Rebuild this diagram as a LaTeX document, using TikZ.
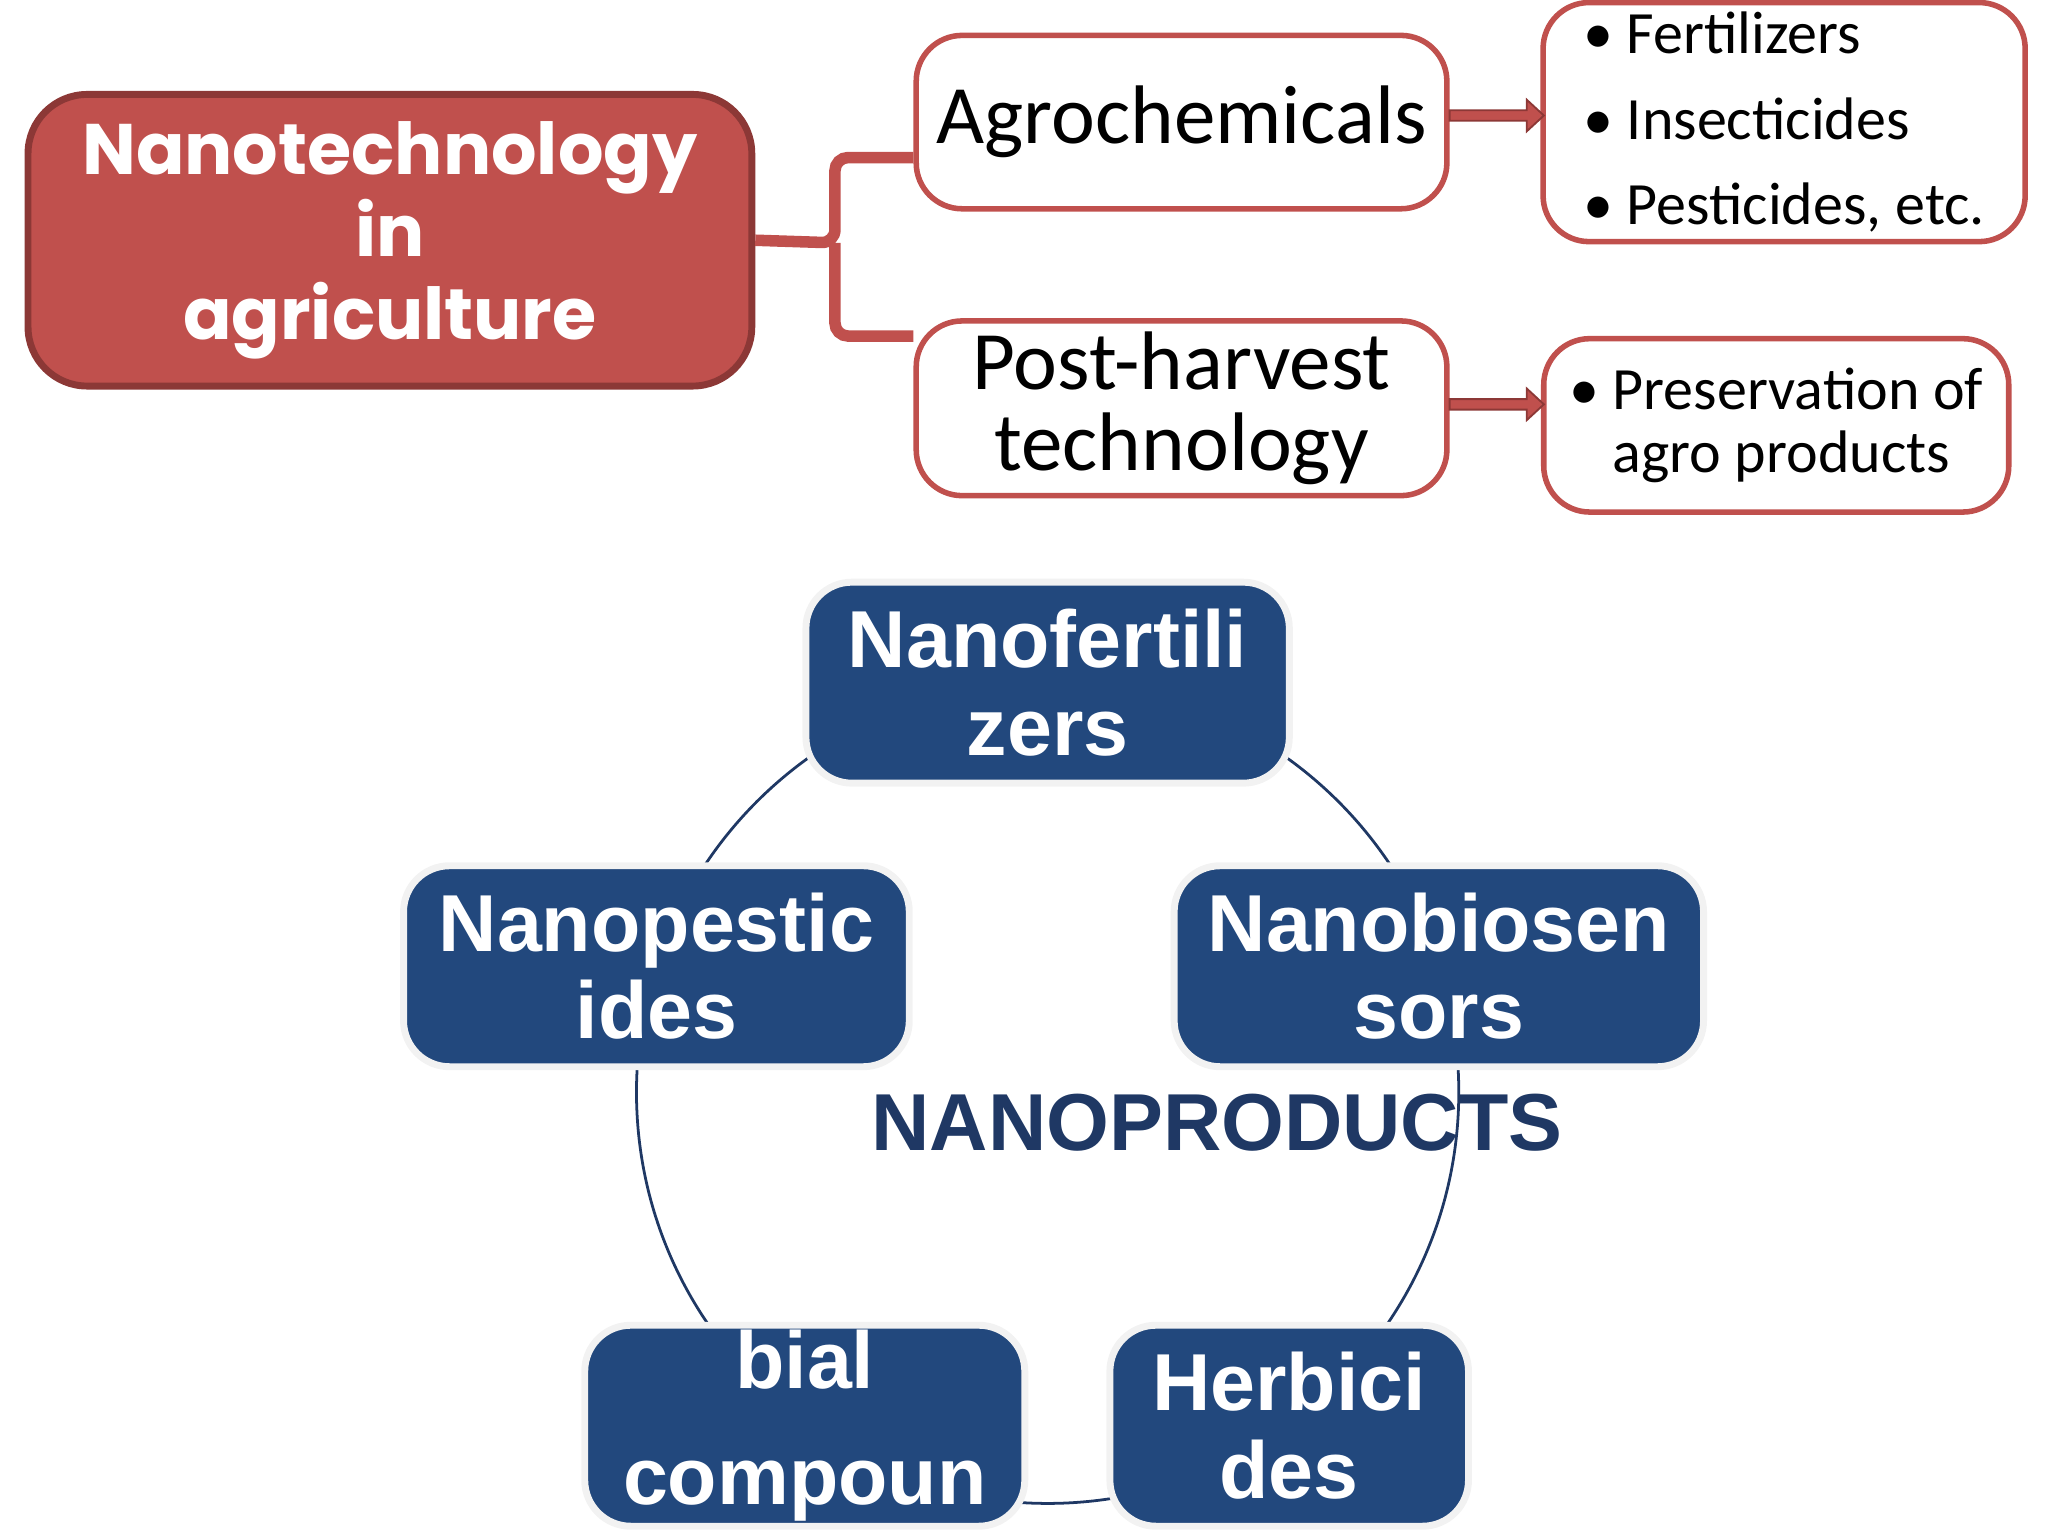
\documentclass[tikz,border=0pt]{standalone}
\usepackage{fontspec}
\setmainfont{Carlito}
\newfontfamily\arialf{Liberation Sans}
\newfontfamily\popf{Poppins}
\usetikzlibrary{arrows.meta}
\definecolor{redfill}{HTML}{C0504D}
\definecolor{redline}{HTML}{8C3836}
\definecolor{blufill}{HTML}{22487D}
\definecolor{bluline}{HTML}{1F3864}
\begin{document}
\begin{tikzpicture}[x=0.01cm,y=-0.01cm,
  redbox/.style={draw=redfill,line width=1.2pt,fill=white,rounded corners=0.35cm,align=center,inner sep=0pt},
  blubox/.style={draw=white!90!gray,line width=1.5pt,fill=blufill,rounded corners=0.35cm,align=center,inner sep=0pt,text=white,font=\arialf\bfseries\fontsize{17.5}{19}\selectfont},
  arr/.style={draw=redline,fill=redfill,line width=0.4pt}]
\useasboundingbox (0,0) rectangle (1560,1170);
% circle
\draw[bluline,line width=0.6pt] (798,832) circle[radius=3.13cm];
% red main
\node[draw=redline,line width=1.5pt,fill=redfill,rounded corners=0.45cm,minimum width=5.51cm,minimum height=2.22cm,text=white,align=center,font=\popf\bfseries\fontsize{15.5}{17.8}\selectfont] (main) at (297,183) {Nanotechnology\\in\\agriculture};
\node[redbox,minimum width=4.04cm,minimum height=1.32cm,font=\fontsize{18}{20}\selectfont] (agro) at (900,93) {Agrochemicals};
\node[redbox,minimum width=4.04cm,minimum height=1.33cm,font=\fontsize{18}{17.5}\selectfont] (post) at (900,311) {Post-harvest\\technology};
\node[redbox,minimum width=3.67cm,minimum height=1.82cm,align=left,font=\fontsize{13}{18.5}\selectfont] (b1) at (1359,93) {\textbullet\ Fertilizers\\\textbullet\ Insecticides\\\textbullet\ Pesticides, etc.};
\node[redbox,minimum width=3.54cm,minimum height=1.32cm,align=left,font=\fontsize{13}{13.5}\selectfont] (b2) at (1353,324) {\textbullet\ Preservation of\\\phantom{\textbullet\ }agro products};
% bracket
\draw[redfill,line width=2.5pt,rounded corners=0.1cm] (main.east) -- (636,185) -- (636,120) -- (agro.west|-0,120);
\draw[redfill,line width=2.5pt,rounded corners=0.1cm] (636,185) -- (636,256) -- (post.west|-0,256);
% arrows
\draw[arr] (agro.east|-0,84) -- (1163,84) -- (1163,76) -- (1176,88) -- (1163,100) -- (1163,92) -- (agro.east|-0,92) -- cycle;
\draw[arr] (post.east|-0,304) -- (1163,304) -- (1163,296) -- (1176,308) -- (1163,320) -- (1163,312) -- (post.east|-0,312) -- cycle;
% blue boxes
\node[blubox,minimum width=3.68cm,minimum height=1.53cm] (nf) at (798,520) {Nanofertili\\zers};
\node[blubox,minimum width=3.85cm,minimum height=1.53cm] (np) at (500,736) {Nanopestic\\ides};
\node[blubox,minimum width=4.03cm,minimum height=1.53cm] (nb) at (1096,736) {Nanobiosen\\sors};
\node[blubox,minimum width=3.35cm,minimum height=1.53cm] (bc) at (613,1086) {};
\node[text=white,font=\arialf\bfseries\fontsize{17.5}{25}\selectfont,align=center] (bct) at (613,1086) {bial\\compoun};
\node[blubox,minimum width=2.73cm,minimum height=1.53cm] (hb) at (982,1086) {Herbici\\des};
\node[text=bluline,font=\arialf\bfseries\fontsize{17.5}{19}\selectfont] (np2) at (927,855) {NANOPRODUCTS};
\end{tikzpicture}
\end{document}
